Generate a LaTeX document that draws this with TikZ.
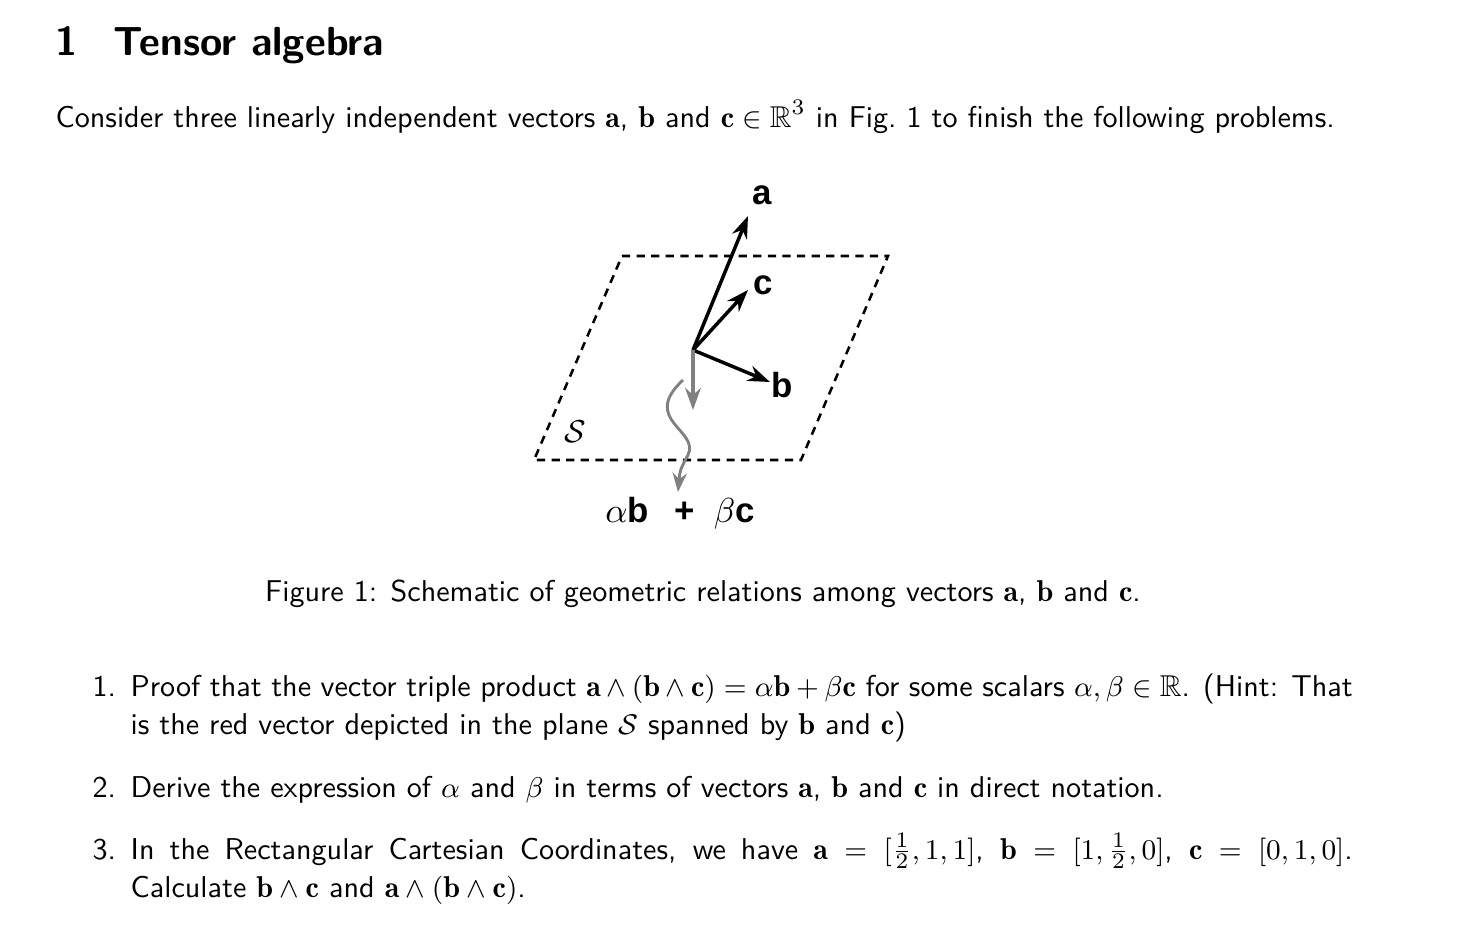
\documentclass[tikz,border=0pt]{standalone}
\usepackage{amsmath,amssymb}
\usepackage{fontspec}
\newfontfamily\helv{Liberation Sans}
\renewcommand\familydefault{\sfdefault}
\usetikzlibrary{arrows.meta}
\begin{document}
\begin{tikzpicture}[x=0.3155pt,y=-0.3155pt,
  txt/.style={anchor=base west,inner sep=0pt,font=\sffamily\fontsize{9.5}{12}\selectfont},
  vec/.style={-{Stealth[length=7pt,width=5pt]},line width=1.1pt},
  lab/.style={inner sep=0pt,font=\helv\bfseries\fontsize{11}{12}\selectfont}]
\useasboundingbox (0,0) rectangle (1471,942);
\node[txt,font=\sffamily\bfseries\fontsize{12.8}{15}\selectfont] (h1) at (55,55) {1};
\node[txt,font=\sffamily\bfseries\fontsize{12.8}{15}\selectfont] (h2) at (113,55) {Tensor algebra};
\node[txt] (intro) at (55,127) {Consider three linearly independent vectors $\mathbf{a}$, $\mathbf{b}$ and $\mathbf{c}\in\mathbb{R}^3$ in Fig.~1 to finish the following problems.};
% figure
\coordinate (p1) at (622,256); \coordinate (p2) at (888,256);
\coordinate (p3) at (801,460); \coordinate (p4) at (534,460);
\draw[line width=0.8pt,dash pattern=on 2.6pt off 2pt] (p1)--(p2)--(p3)--(p4)--cycle;
\coordinate (o) at (693,350);
\coordinate (ta) at (748,216); \coordinate (tc) at (748,290); \coordinate (tb) at (770,382);
\coordinate (td) at (693,410);
\draw[vec] (o)--(ta); \draw[vec] (o)--(tc); \draw[vec] (o)--(tb);
\draw[vec,gray,line width=1pt] (o)--(td);
\node[lab] (la) at (762,195) {a};
\node[lab] (lc) at (763,285) {c};
\node[lab] (lb) at (782,385) {b};
\node[inner sep=0pt] (ls) at (575,432) {$\mathcal{S}$};
\coordinate (w0) at (683,380); \coordinate (w1) at (678,492);
\draw[gray,line width=0.9pt,-{Stealth[length=6pt,width=4.5pt]}] (w0) .. controls (640,420) and (700,430) .. (688,455) .. controls (680,470) .. (w1);
\node[inner sep=0pt,font=\fontsize{11}{12}\selectfont] (comb) at (680,513) {$\alpha$\helv\bfseries b \ \,+\ \ $\beta$c};
\node[inner sep=0pt,anchor=base,font=\sffamily\fontsize{9.5}{12}\selectfont] (cap) at (703,601) {Figure 1: Schematic of geometric relations among vectors $\mathbf{a}$, $\mathbf{b}$ and $\mathbf{c}$.};
% items
\node[txt] (n1) at (92,696) {1.};
\node[txt] (i1) at (130,696) {\parbox[t]{385.6pt}{\baselineskip=12pt\hyphenpenalty=10000 Proof that the vector triple product $\mathbf{a}\wedge(\mathbf{b}\wedge\mathbf{c})=\alpha\mathbf{b}+\beta\mathbf{c}$ for some scalars $\alpha,\beta\in\mathbb{R}$. (Hint: That is the red vector depicted in the plane $\mathcal{S}$ spanned by $\mathbf{b}$ and $\mathbf{c}$)}};
\node[txt] (n2) at (92,797) {2.};
\node[txt] (i2) at (130,797) {Derive the expression of $\alpha$ and $\beta$ in terms of vectors $\mathbf{a}$, $\mathbf{b}$ and $\mathbf{c}$ in direct notation.};
\node[txt] (n3) at (92,859) {3.};
\node[txt] (i3) at (130,859) {\parbox[t]{385.6pt}{\baselineskip=12pt\hyphenpenalty=10000 In the Rectangular Cartesian Coordinates, we have $\mathbf{a}=[\frac12,1,1]$, $\mathbf{b}=[1,\frac12,0]$, $\mathbf{c}=[0,1,0]$. Calculate $\mathbf{b}\wedge\mathbf{c}$ and $\mathbf{a}\wedge(\mathbf{b}\wedge\mathbf{c})$.}};
\end{tikzpicture}
\end{document}
